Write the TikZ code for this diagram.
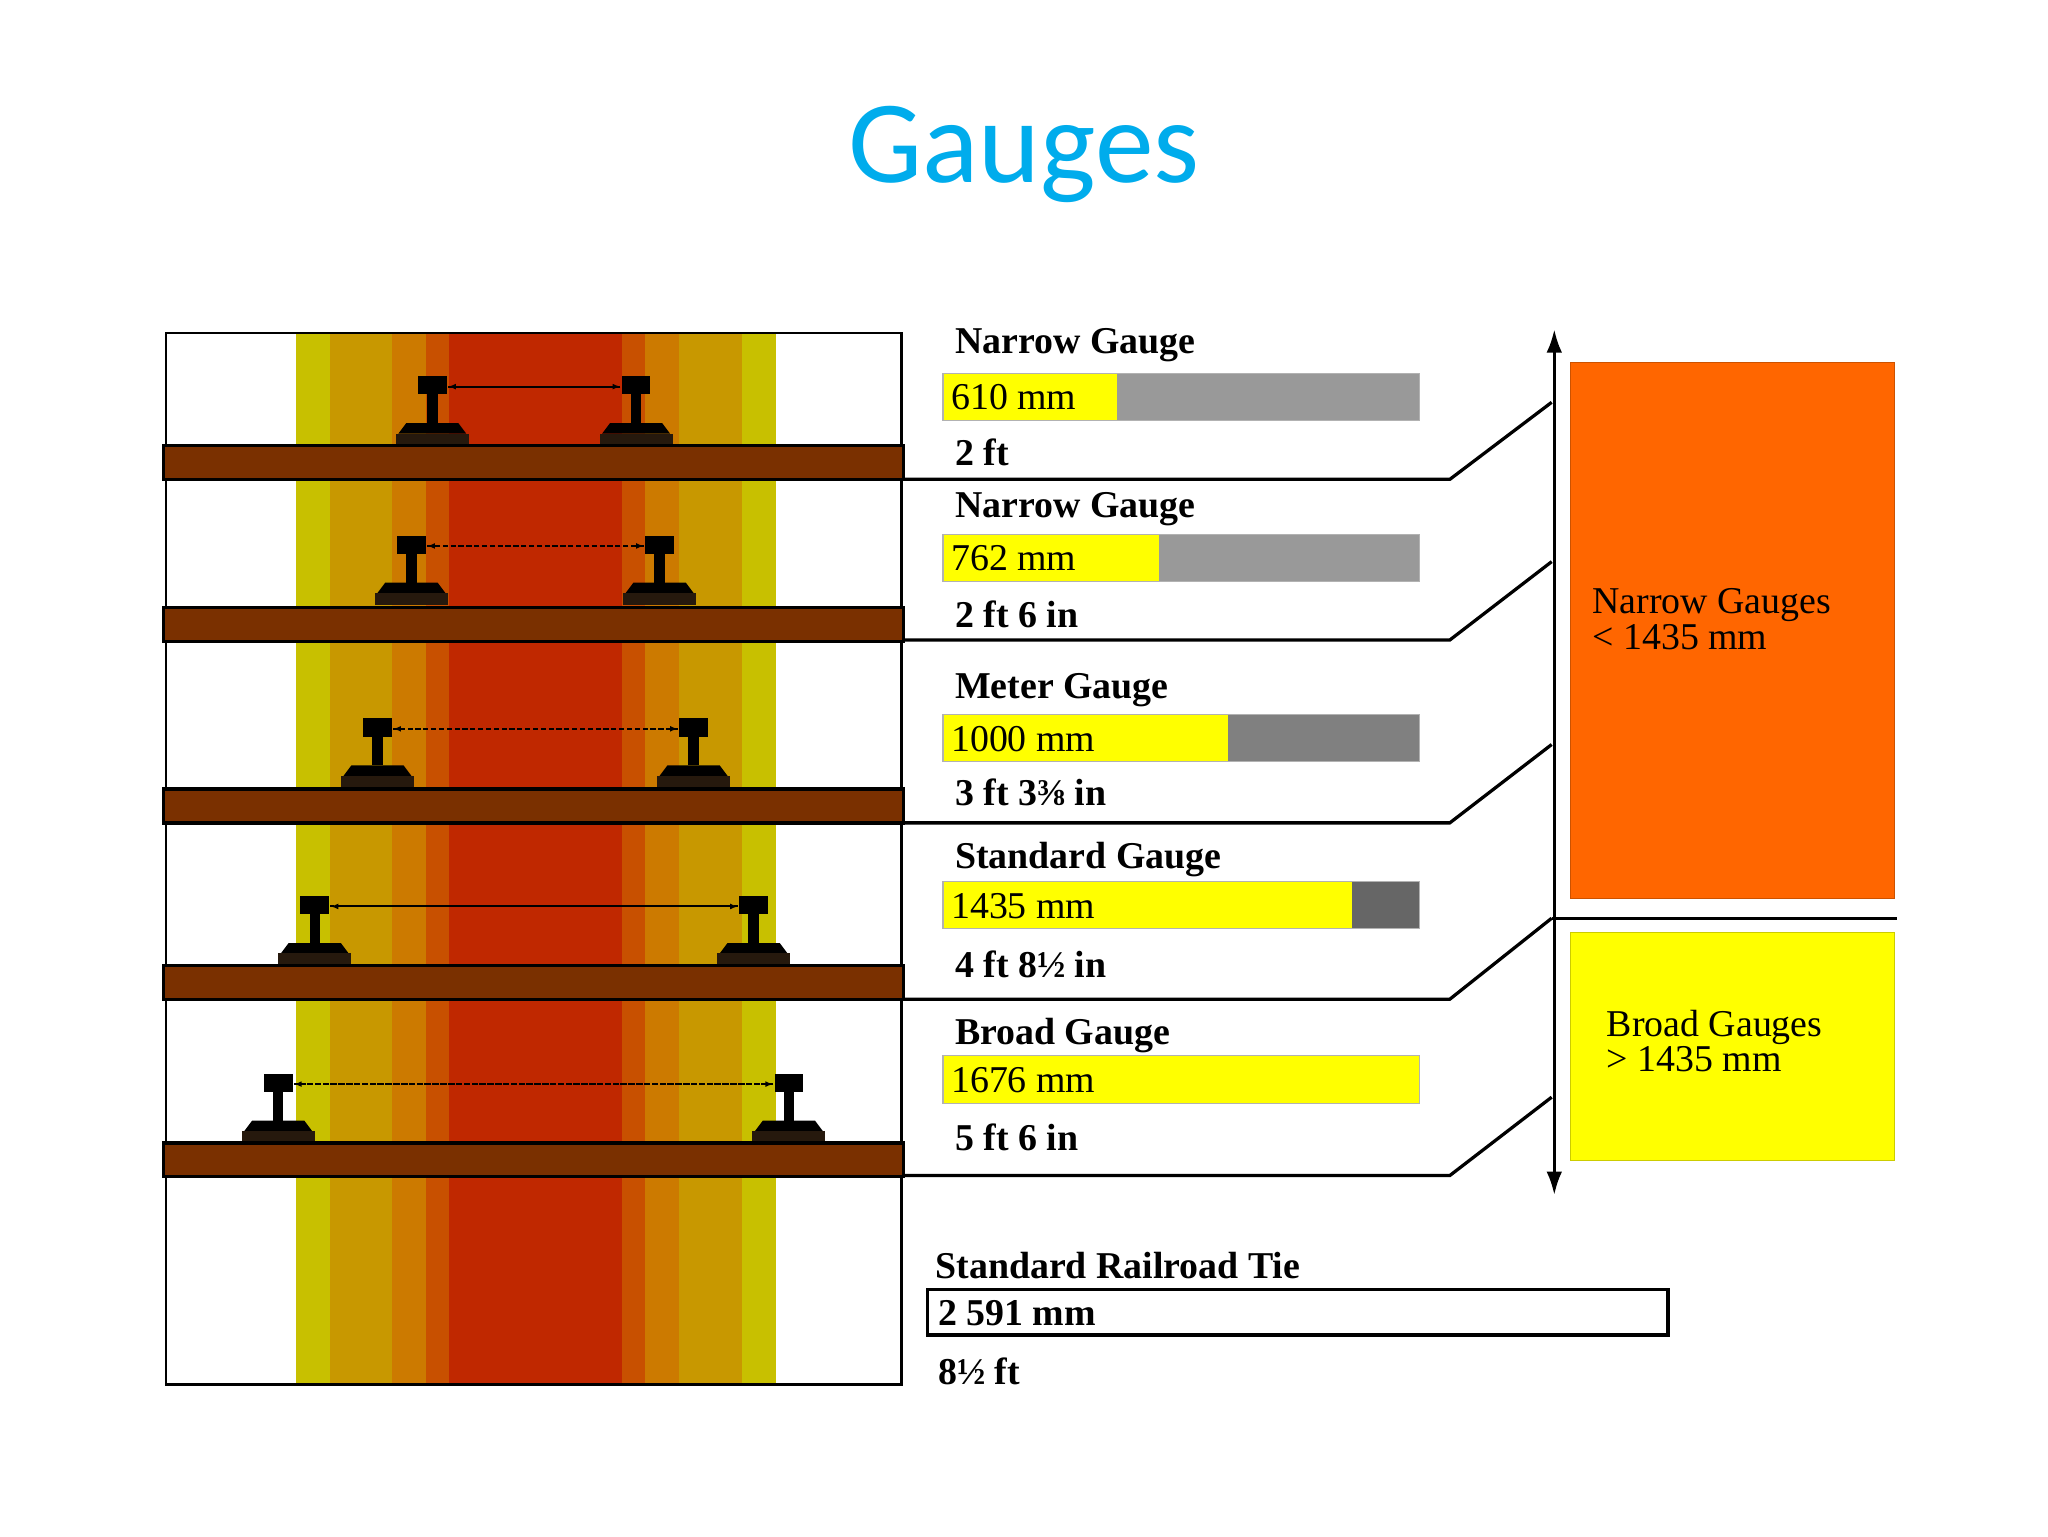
\documentclass[tikz,border=0pt]{standalone}
\usepackage{fontspec}
\setmainfont{Liberation Serif}
\newfontfamily\titlefont{Carlito}
\usetikzlibrary{arrows.meta}
\definecolor{bA}{HTML}{C8C000}
\definecolor{bB}{HTML}{C89800}
\definecolor{bC}{HTML}{CC7A00}
\definecolor{bD}{HTML}{C85000}
\definecolor{bE}{HTML}{C02800}
\definecolor{tie}{HTML}{7A3000}
\definecolor{gbar}{HTML}{999999}
\definecolor{ttl}{HTML}{00ACEC}
\definecolor{org}{HTML}{FF6600}
\definecolor{yel}{HTML}{FFFF00}
\tikzset{
 lbl/.style={anchor=west,inner sep=0pt,font=\fontsize{29}{29}\selectfont\bfseries},
 vlbl/.style={anchor=west,inner sep=0pt,font=\fontsize{29}{29}\selectfont},
 conn/.style={line width=2.5pt},
}
\newcommand\rail[2]{% x, y of dashed line
 \fill[black] (#1-11,#2-8) rectangle (#1+11,#2+6);
 \fill[black] (#1-4,#2+6) rectangle (#1+4,#2+28);
 \fill[black] (#1-20,#2+28) -- (#1+20,#2+28) -- (#1+26,#2+36) -- (#1-26,#2+36) -- cycle;
 \fill[black!80!brown] (#1-28,#2+36) rectangle (#1+28,#2+45);
}
\newcommand\gaugerow[5]{% top y, tie top, left rail x, right rail x, dash y
 \rail{#3}{#5}\rail{#4}{#5}
 \draw[dashed,line width=1.5pt,-{Latex[length=6pt]}] (#3+12,#5) -- (#4-12,#5);
 \draw[dashed,line width=1.5pt,-{Latex[length=6pt]}] (#4-12,#5) -- (#3+12,#5);
 \fill[tie,draw=black,line width=2.5pt] (125,#2) rectangle (692,#2+26);
}
\begin{document}
\begin{tikzpicture}[x=1pt,y=-1pt]
\useasboundingbox (0,0) rectangle (1568,1176);
\node[font=\titlefont\fontsize{90}{90}\selectfont,text=ttl] (title) at (784,118) {Gauges};
% bands
\fill[bA] (227,255) rectangle (594,1060);
\fill[bB] (253,255) rectangle (568,1060);
\fill[bC] (300,255) rectangle (520,1060);
\fill[bD] (326,255) rectangle (494,1060);
\fill[bE] (344,255) rectangle (476,1060);
\draw[line width=2pt] (127,255) rectangle (690,1060);
\gaugerow{255}{341}{331}{487}{296}
\gaugerow{367}{465}{315}{505}{418}
\gaugerow{490}{604}{289}{531}{558}
\gaugerow{630}{739}{241}{577}{694}
\gaugerow{765}{875}{213}{604}{830}
% bars
\foreach \yt/\ye/\col in {286/855/gbar,409/887/gbar,547/940/gray,675/1035/black!60}{
 \fill[\col] (722,\yt) rectangle (1087,\yt+36);
 \fill[yel] (722,\yt) rectangle (\ye,\yt+36);
 \draw[gray!60,line width=1pt] (722,\yt) rectangle (1087,\yt+36);
}
\fill[yel] (722,808) rectangle (1087,845);
\draw[gray!60,line width=1pt] (722,808) rectangle (1087,845);
% labels
\node[lbl] (t1) at (731,264) {Narrow Gauge};
\node[vlbl] (m1) at (728,304) {610 mm};
\node[lbl] (f1) at (731,346) {2 ft};
\node[lbl] (t2) at (731,390) {Narrow Gauge};
\node[vlbl] (m2) at (728,427) {762 mm};
\node[lbl] (f2) at (731,470) {2 ft 6 in};
\node[lbl] (t3) at (731,528) {Meter Gauge};
\node[vlbl] (m3) at (728,566) {1000 mm};
\node[lbl] (f3) at (731,607) {3 ft 3⅜ in};
\node[lbl] (t4) at (731,658) {Standard Gauge};
\node[vlbl] (m4) at (728,694) {1435 mm};
\node[lbl] (f4) at (731,738) {4 ft 8½ in};
\node[lbl] (t5) at (731,793) {Broad Gauge};
\node[vlbl] (m5) at (728,827) {1676 mm};
\node[lbl] (f5) at (731,871) {5 ft 6 in};
% connectors
\foreach \ya/\yb in {367/308,490/430,630/570,765/703,900/840}{
 \draw[conn] (692,\ya) -- (1110,\ya) -- (1188,\yb);
}
\draw[line width=2pt] (1188,703) -- (1452,703);
\draw[line width=2.5pt,{Latex[length=18pt,width=12pt]}-{Latex[length=18pt,width=12pt]}] (1190,252) -- (1190,915);
% boxes
\fill[org,draw=org!80!black] (1202,277) rectangle (1450,688);
\fill[yel,draw=yel!80!black] (1202,714) rectangle (1450,888);
\node[vlbl,align=left] (nar) at (1219,474) {Narrow Gauges\\[-2pt]< 1435 mm};
\node[vlbl,align=left] (brd) at (1230,797) {Broad Gauges\\[-2pt]> 1435 mm};
% tie
\node[lbl] (tt) at (716,969) {Standard Railroad Tie};
\draw[line width=2.5pt] (710,987) rectangle (1277,1022);
\node[lbl] (tm) at (718,1005) {2 591 mm};
\node[lbl] (tf) at (718,1050) {8½ ft};
\end{tikzpicture}
\end{document}
